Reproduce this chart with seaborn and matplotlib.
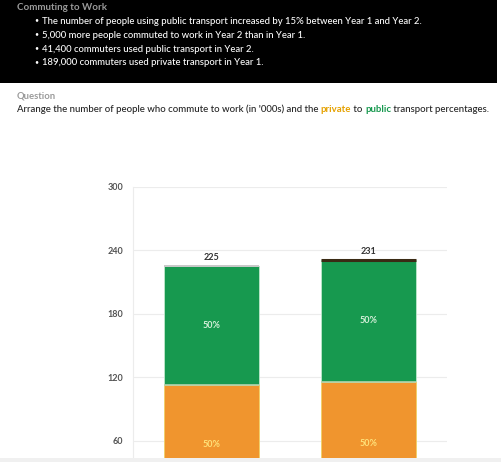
import seaborn as sns
import matplotlib.pyplot as plt
from matplotlib.patches import Rectangle

import pandas as pd

### data (in '000s)
years = ["Year 1", "Year 2"]
totals = [225, 231]
private = [112.5, 115.5]
private_pct = ["50%", "50%"]
public_pct = ["50%", "50%"]
y_ticks = [60, 120, 180, 240, 300]

header = "Commuting to Work"
bullets = [
    "The number of people using public transport increased by 15% between Year 1 and Year 2.",
    "5,000 more people commuted to work in Year 2 than in Year 1.",
    "41,400 commuters used public transport in Year 2.",
    "189,000 commuters used private transport in Year 1.",
]

df = pd.DataFrame({"year": years, "total": totals, "private": private})
df["public"] = df["total"] - df["private"]

GREEN = "#17994f"
ORANGE = "#f0952e"

sns.set_style("white")
plt.rcParams["font.family"] = ["Lato", "DejaVu Sans"]

W, H = 502, 462
fig = plt.figure(figsize=(W / 100, H / 100), dpi=100)


def px(x, y):
    return x / W, 1 - y / H


### black info box
fig.patches.append(
    Rectangle(px(0, 83), 497 / W, 83 / H, transform=fig.transFigure,
              facecolor="black", edgecolor="none", zorder=0)
)
fig.text(*px(17, 8), header, color="#9a9a9a", fontsize=7,
         fontweight="bold", va="center")
for i, line in enumerate(bullets):
    yy = 21.5 + i * 13.8
    fig.text(*px(34.5, yy - 1.5), "•", color="white", fontsize=5, va="center")
    fig.text(*px(42, yy), line, color="white", fontsize=6.8, fontweight=500,
             va="center")

### question
fig.text(*px(17, 96), "Question", color="#9a9a9a", fontsize=6.8,
         fontweight="bold", va="center")
pieces = [
    ("Arrange the number of people who commute to work (in '000s) and the ", "#222222", 500),
    ("private", "#e5a100", "bold"),
    (" to ", "#222222", 500),
    ("public", "#17994f", "bold"),
    (" transport percentages.", "#222222", 500),
]
fig.canvas.draw()
renderer = fig.canvas.get_renderer()
x0 = 17 / W
for txt, col, wt in pieces:
    t = fig.text(x0, px(0, 109)[1], txt, color=col, fontsize=6.9,
                 fontweight=wt, va="center")
    bb = t.get_window_extent(renderer)
    x0 += bb.width / W

### chart
ax = fig.add_axes([133 / W, 0, 314 / W, (462 - 186.7) / H])
sns.barplot(data=df, x="year", y="total", color=GREEN, width=0.6,
            saturation=1, edgecolor="#bfe8cc", linewidth=0.6, ax=ax)
sns.barplot(data=df, x="year", y="private", color=ORANGE, width=0.6,
            saturation=1, edgecolor="#f7d36a", linewidth=0.6, ax=ax)

# thin strips on the bar tops and between segments
ax.hlines(df["private"], [-0.3, 0.7], [0.3, 1.3], color="#b5d3b0", lw=1.2, zorder=5)
ax.hlines(df["total"].iloc[0], -0.3, 0.3, color="#c8c8c8", lw=1.4, zorder=5)
ax.hlines(df["total"].iloc[1], 0.7, 1.3, color="#3a2a14", lw=2.2, zorder=5)

for i, row in df.iterrows():
    ax.annotate(str(row["total"]), (i, row["total"]), xytext=(0, 6),
                textcoords="offset points", ha="center", va="center",
                fontsize=6.5, fontweight="bold", color="#333333")
    ax.text(i, row["private"] + row["public"] / 2, public_pct[i], ha="center",
            va="center", fontsize=6.5, fontweight="bold", color="#d6f0da")
    ax.text(i, row["private"] / 2, private_pct[i], ha="center", va="center",
            fontsize=6.5, fontweight="bold", color="#ffe27a")

ax.set_xlim(-0.5, 1.5)
ax.set_ylim(40, 300)
ax.set_yticks(y_ticks)
ax.set_yticklabels([str(v) for v in y_ticks])
ax.yaxis.grid(True, color="#ececec", lw=0.8)
ax.set_axisbelow(True)
ax.tick_params(axis="y", length=0, pad=7, labelsize=6.5, labelcolor="#555555")
for lab in ax.get_yticklabels():
    lab.set_fontweight("bold")
ax.set_xticks([])
ax.set_xlabel("")
ax.set_ylabel("")
for side in ["top", "right", "bottom"]:
    ax.spines[side].set_visible(False)
ax.spines["left"].set_color("#ececec")
ax.spines["left"].set_linewidth(0.8)

# light strip along the cropped bottom edge
fig.patches.append(
    Rectangle((0, 0), 1, 4 / H, transform=fig.transFigure,
              facecolor="#f0f0f0", edgecolor="none", zorder=10)
)

fig.savefig("out.png", dpi=100)
